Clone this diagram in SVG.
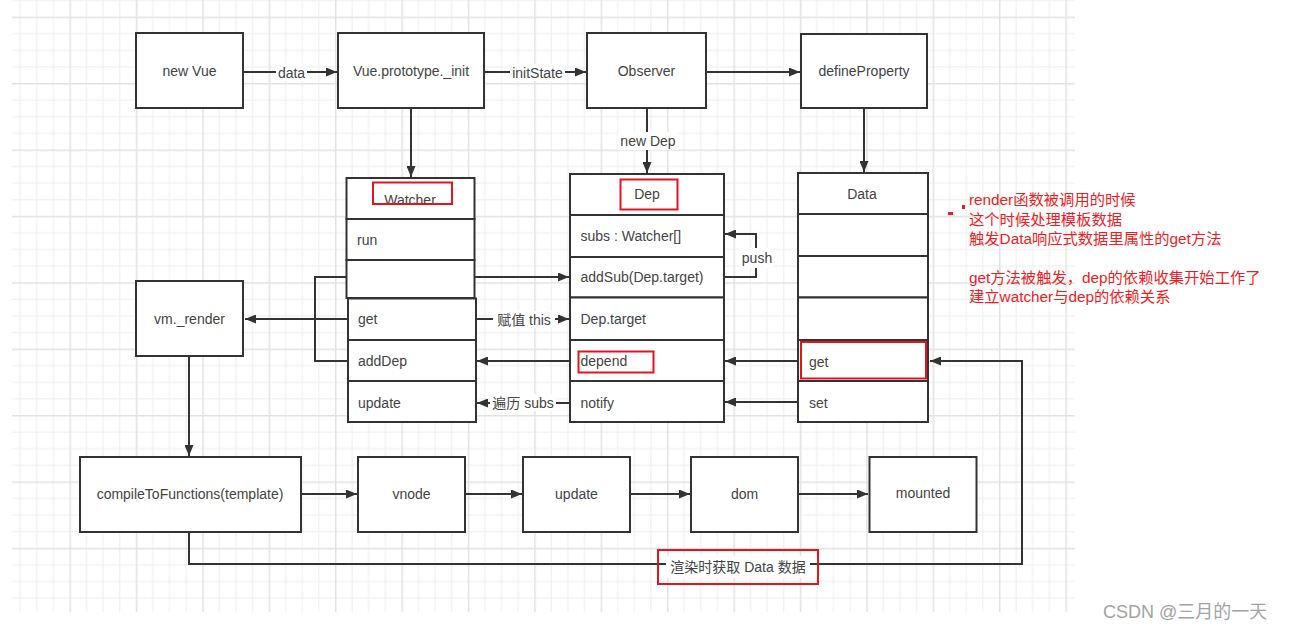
<svg xmlns="http://www.w3.org/2000/svg" width="1290" height="631" viewBox="0 0 1290 631">
<defs>
<pattern id="grid" patternUnits="userSpaceOnUse" x="3" y="16.6" width="66.4" height="66.4">
<rect x="0" y="0" width="66.4" height="66.4" fill="#ffffff"/>
<rect x="16.6" y="0" width="1" height="66.4" fill="#eeeeee"/>
<rect x="33.2" y="0" width="1" height="66.4" fill="#eeeeee"/>
<rect x="49.8" y="0" width="1" height="66.4" fill="#eeeeee"/>
<rect x="0" y="16.6" width="66.4" height="1" fill="#eeeeee"/>
<rect x="0" y="33.2" width="66.4" height="1" fill="#eeeeee"/>
<rect x="0" y="49.8" width="66.4" height="1" fill="#eeeeee"/>
<rect x="0" y="0" width="1.5" height="66.4" fill="#e2e2e2"/>
<rect x="0" y="0" width="66.4" height="1.5" fill="#e2e2e2"/>
</pattern>
<marker id="arr" markerUnits="userSpaceOnUse" markerWidth="11" markerHeight="9" refX="11" refY="4.5" orient="auto">
<path d="M0,0 L11,4.5 L0,9 z" fill="#333333"/>
</marker>
</defs>
<style>
.box{fill:#ffffff;stroke:#333333;stroke-width:2}
.t{font-family:"Liberation Sans",Arial,"Noto Sans CJK SC",sans-serif;font-size:14px;fill:#444444}
.c{text-anchor:middle}
.ln{fill:none;stroke:#333333;stroke-width:2}
.ar{marker-end:url(#arr)}
.lbg{fill:#ffffff}
.red{fill:none;stroke:#e3141e;stroke-width:2}
.note{font-family:"Liberation Sans",Arial,"Noto Sans CJK SC",sans-serif;font-size:15.3px;fill:#ee1c25}
</style>
<rect x="0" y="0" width="1290" height="631" fill="#ffffff"/>
<rect x="12" y="0" width="1063" height="612" fill="url(#grid)"/>

<g id="connectors">
<path class="ln ar" d="M243,72 H337"/>
<path class="ln ar" d="M484,72 H586"/>
<path class="ln ar" d="M706,72 H800"/>
<path class="ln ar" d="M411,108 V177"/>
<path class="ln ar" d="M647,108 V173"/>
<path class="ln ar" d="M864,108 V172"/>
<path class="ln ar" d="M474,277 H569"/>
<path class="ln ar" d="M476,319 H569"/>
<path class="ln ar" d="M570,361 H477"/>
<path class="ln ar" d="M570,403 H477"/>
<path class="ln ar" d="M724,277 H756 V234 H725"/>
<path class="ln ar" d="M799,361 H725"/>
<path class="ln ar" d="M799,402 H725"/>
<path class="ln" d="M347,277 H315 V361 H348"/>
<path class="ln ar" d="M348,319 H245"/>
<path class="ln ar" d="M189,356 V456"/>
<path class="ln ar" d="M301,494 H357"/>
<path class="ln ar" d="M465,494 H522"/>
<path class="ln ar" d="M630,494 H690"/>
<path class="ln ar" d="M798,494 H868"/>
<path class="ln ar" d="M189,532 V564 H1022 V361 H930"/>
<rect class="lbg" x="276" y="64" width="31" height="17"/>
<text class="t c" x="291.5" y="78">data</text>
<rect class="lbg" x="510" y="64" width="55" height="17"/>
<text class="t c" x="537.5" y="78">initState</text>
<rect class="lbg" x="618" y="132" width="60" height="18"/>
<text class="t c" x="648" y="146">new Dep</text>
<rect class="lbg" x="493" y="311" width="62" height="17"/>
<text class="t c" x="524" y="325">赋值 this</text>
<rect class="lbg" x="490" y="394" width="66" height="17"/>
<text class="t c" x="523" y="408">遍历 subs</text>
<rect class="lbg" x="740" y="248" width="34" height="20"/>
<text class="t c" x="757" y="263">push</text>
<rect class="lbg" x="666" y="556" width="144" height="22"/>
<text class="t c" x="738" y="572">渲染时获取 Data 数据</text>
<rect class="red" x="658" y="550" width="160" height="34"/>
</g>

<g id="newVue"><rect class="box" x="136" y="33" width="107" height="75"/><text class="t c" x="189.5" y="76">new Vue</text></g>
<g id="init"><rect class="box" x="338" y="33" width="146" height="75"/><text class="t c" x="411" y="76">Vue.prototype._init</text></g>
<g id="observer"><rect class="box" x="587" y="33" width="119" height="75"/><text class="t c" x="646.5" y="76">Observer</text></g>
<g id="defineProperty"><rect class="box" x="801" y="34" width="126" height="74"/><text class="t c" x="864" y="76">defineProperty</text></g>

<g id="watcher">
<rect class="box" x="346.5" y="178" width="128" height="41"/>
<rect class="box" x="346.5" y="219" width="128" height="41"/>
<rect class="box" x="346.5" y="260" width="128" height="38"/>
<rect class="box" x="348" y="298.5" width="128" height="41.5"/>
<rect class="box" x="348" y="340" width="128" height="41"/>
<rect class="box" x="348" y="381" width="128" height="41"/>
<text class="t c" x="410" y="205">Watcher</text>
<text class="t" x="357" y="245">run</text>
<text class="t" x="358" y="324">get</text>
<text class="t" x="358" y="366">addDep</text>
<text class="t" x="358" y="408">update</text>
<rect class="red" x="373" y="182.5" width="79" height="21.5"/>
</g>

<g id="dep">
<rect class="box" x="570" y="174" width="154" height="41"/>
<rect class="box" x="570" y="215" width="154" height="42"/>
<rect class="box" x="570" y="257" width="154" height="40.5"/>
<rect class="box" x="570" y="297.5" width="154" height="42.5"/>
<rect class="box" x="570" y="340" width="154" height="41"/>
<rect class="box" x="570" y="381" width="154" height="41"/>
<text class="t c" x="647" y="199">Dep</text>
<text class="t" x="580.5" y="241">subs : Watcher[]</text>
<text class="t" x="580.5" y="282">addSub(Dep.target)</text>
<text class="t" x="580.5" y="324">Dep.target</text>
<text class="t" x="580.5" y="366">depend</text>
<text class="t" x="580.5" y="408">notify</text>
<rect class="red" x="620.5" y="179.5" width="57" height="30"/>
<rect class="red" x="578.5" y="351.5" width="75" height="21"/>
</g>

<g id="data">
<rect class="box" x="798" y="173" width="130" height="41"/>
<rect class="box" x="798" y="214" width="130" height="42"/>
<rect class="box" x="798" y="256" width="130" height="41.5"/>
<rect class="box" x="798" y="297.5" width="130" height="42.5"/>
<rect class="box" x="798" y="340" width="130" height="41"/>
<rect class="box" x="798" y="381" width="130" height="41"/>
<text class="t c" x="862" y="198.5">Data</text>
<text class="t" x="809" y="367">get</text>
<text class="t" x="809" y="408">set</text>
<rect class="red" x="801" y="342" width="125" height="36.5"/>
</g>

<g id="vmRender"><rect class="box" x="136" y="281" width="107" height="75"/><text class="t c" x="189.5" y="324">vm._render</text></g>
<g id="compile"><rect class="box" x="80" y="457" width="221" height="75"/><text class="t c" x="190" y="499">compileToFunctions(template)</text></g>
<g id="vnode"><rect class="box" x="358" y="457" width="107" height="75"/><text class="t c" x="411.5" y="499">vnode</text></g>
<g id="update"><rect class="box" x="523" y="457" width="107" height="75"/><text class="t c" x="576.5" y="499">update</text></g>
<g id="dom"><rect class="box" x="691" y="457" width="107" height="75"/><text class="t c" x="744.5" y="499">dom</text></g>
<g id="mounted"><rect class="box" x="869.5" y="457" width="107" height="75"/><text class="t c" x="923" y="498">mounted</text></g>

<g id="note">
<rect x="962" y="205" width="3" height="4" fill="#ee1c25"/>
<rect x="948" y="212" width="5" height="3" fill="#ee1c25"/>
<text class="note" x="969" y="205">render函数被调用的时候</text>
<text class="note" x="969" y="225">这个时候处理模板数据</text>
<text class="note" x="969" y="244">触发Data响应式数据里属性的get方法</text>
<text class="note" x="969" y="283">get方法被触发，dep的依赖收集开始工作了</text>
<text class="note" x="969" y="302">建立watcher与dep的依赖关系</text>
</g>

<text x="1103" y="618" style="font-family:'Liberation Sans',Arial,'Noto Sans CJK SC',sans-serif;font-size:18px;fill:#a3a3a3">CSDN @三月的一天</text>
</svg>
